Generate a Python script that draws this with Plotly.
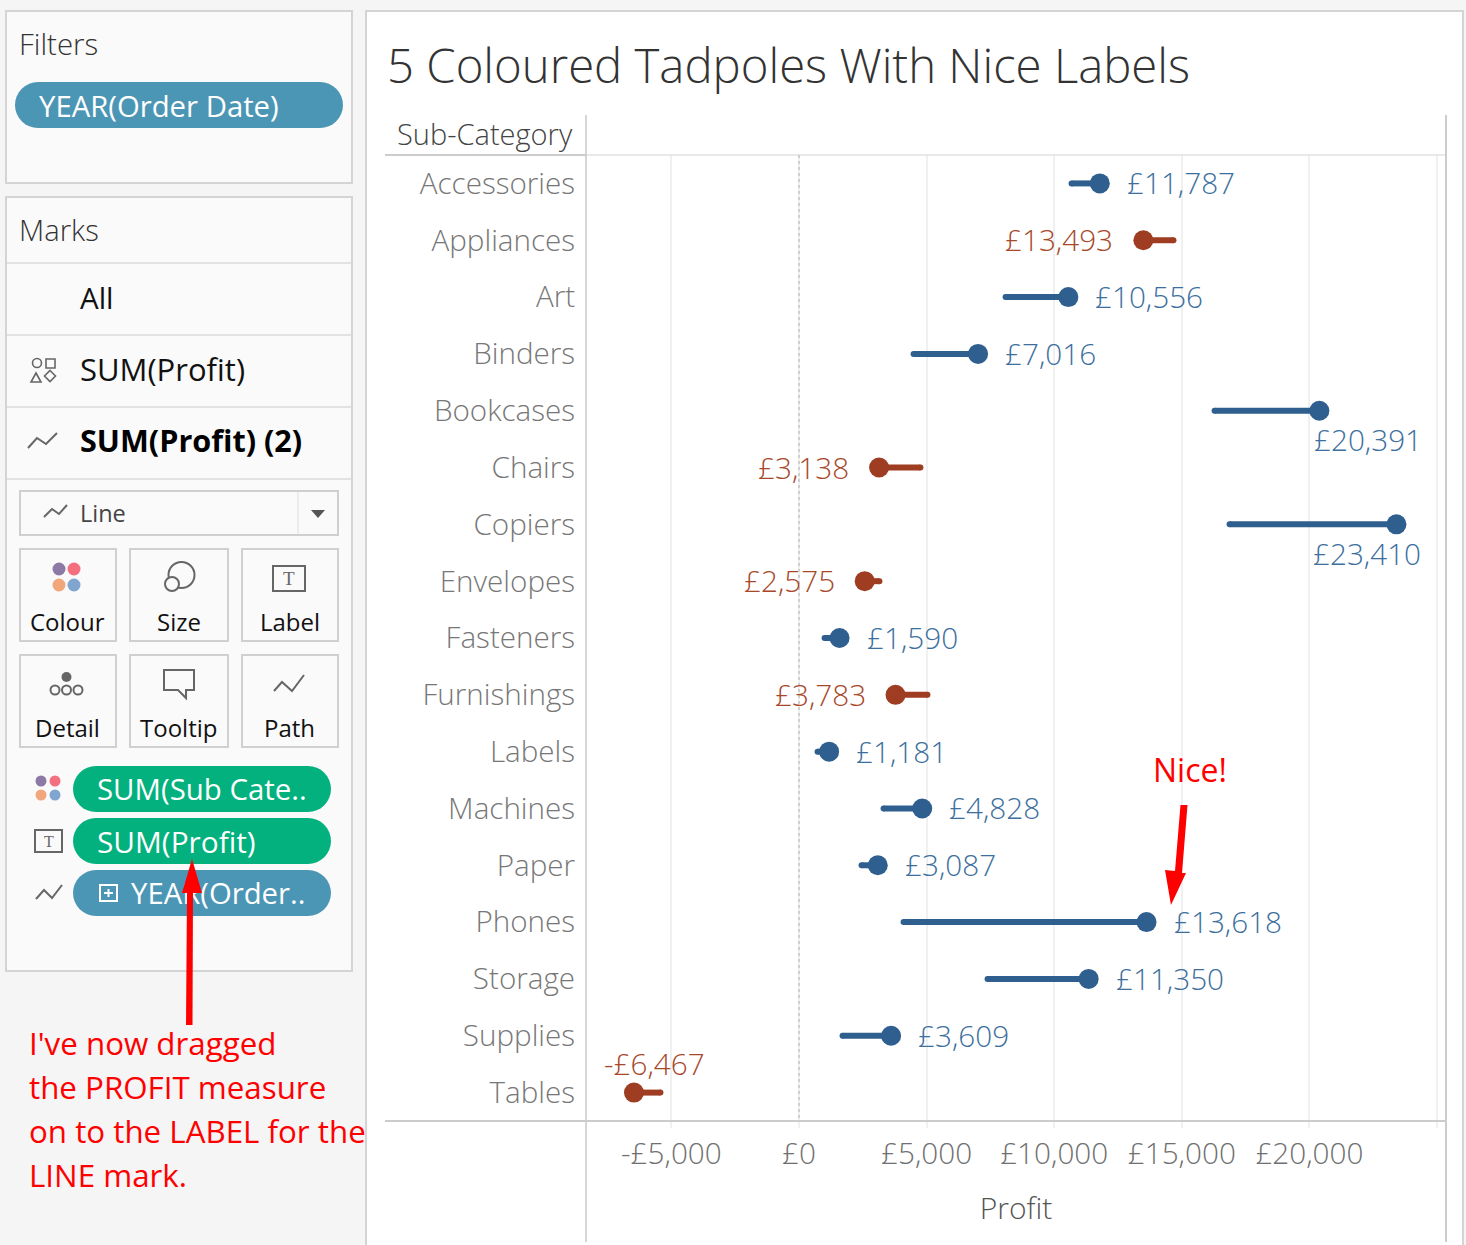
import math
import plotly.graph_objects as go

categories = ["Accessories","Appliances","Art","Binders","Bookcases","Chairs","Copiers","Envelopes",
              "Fasteners","Furnishings","Labels","Machines","Paper","Phones","Storage","Supplies","Tables"]
profit_start = [10680,14673,8094,4489,16284,4759,16871,3152,1001,5033,727,3313,2451,4097,7388,1706,-5429]
profit_end = [11787,13493,10556,7016,20391,3138,23410,2575,1590,3783,1181,4828,3087,13618,11350,3609,-6467]
x_ticks = [-5000,0,5000,10000,15000,20000,25000]
x_tick_labels = ["-£5,000","£0","£5,000","£10,000","£15,000","£20,000",""]

W, H = 1466, 1245
BLUE, RED = "#2f5f8f", "#9e3d22"
BLUE_T, RED_T = "#3d6f9e", "#a8482b"
FONT = "Open Sans"
px = lambda x: x / W
py = lambda y: 1 - y / H

def money(v):
    return ("-" if v < 0 else "") + "£{:,}".format(abs(v))

shapes, notes = [], []

def rect(x0, y0, x1, y1, fill="rgba(0,0,0,0)", line="#d4d4d4", w=2, layer="below"):
    shapes.append(dict(type="rect", xref="paper", yref="paper", x0=px(x0), x1=px(x1), y0=py(y0), y1=py(y1),
                       fillcolor=fill, line=dict(color=line, width=w), layer=layer))

def hline(x0, x1, y, color="#e2e2e2", w=2):
    shapes.append(dict(type="line", xref="paper", yref="paper", x0=px(x0), x1=px(x1), y0=py(y), y1=py(y),
                       line=dict(color=color, width=w), layer="above"))

def vline(x, y0, y1, color="#cccccc", w=2):
    shapes.append(dict(type="line", xref="paper", yref="paper", x0=px(x), x1=px(x), y0=py(y0), y1=py(y1),
                       line=dict(color=color, width=w), layer="above"))

def circ(cx, cy, r, fill="rgba(0,0,0,0)", line=None, w=2):
    shapes.append(dict(type="circle", xref="paper", yref="paper", x0=px(cx-r), x1=px(cx+r), y0=py(cy-r), y1=py(cy+r),
                       fillcolor=fill, line=dict(color=line or "rgba(0,0,0,0)", width=w if line else 0), layer="above"))

def poly(points, fill="rgba(0,0,0,0)", line=None, w=2, closed=False, layer="above"):
    d = "M " + " L ".join(f"{px(a):.5f},{py(b):.5f}" for a, b in points) + (" Z" if closed else "")
    shapes.append(dict(type="path", xref="paper", yref="paper", path=d, fillcolor=fill,
                       line=dict(color=line or "rgba(0,0,0,0)", width=w if line else 0), layer=layer))

def pill(x0, y0, x1, y1, color, layer="above"):
    r = (y1 - y0) / 2
    pts = [(x1 - r + r*math.sin(math.pi*i/16), y0 + r - r*math.cos(math.pi*i/16)) for i in range(17)]
    pts += [(x0 + r - r*math.sin(math.pi*i/16), y1 - r + r*math.cos(math.pi*i/16)) for i in range(17)]
    poly(pts, fill=color, closed=True, layer=layer)

def text(x, y, s, size, color="#333333", anchor="left", weight=400, family=FONT):
    dx = -2 if anchor == "left" else 0
    notes.append(dict(xref="paper", yref="paper", x=px(x + dx), y=py(y - 1), text=s, showarrow=False,
                      xanchor=anchor, yanchor="middle", align=anchor,
                      font=dict(size=size, color=color, family=family, weight=weight)))

# panels
rect(6, 11, 352, 183, fill="#fafafa")
rect(6, 197, 352, 971, fill="#fafafa")
rect(366, 11, 1463, 1260, fill="#ffffff")
for y in (263, 335, 407, 479):
    hline(7, 351, y)
text(19, 45, "Filters", 29.4, "#333333", weight=300)
text(19, 231, "Marks", 29.2, "#333333", weight=300)
text(80, 298, "All", 29.5, "#111111")
text(80, 370, "SUM(Profit)", 31, "#111111")
text(80, 441, "SUM(Profit) (2)", 30.6, "#000000", weight=700)
pill(15, 82, 343, 128, "#4c96b5")
text(39, 107, "YEAR(Order Date)", 29.3, "#ffffff")

# shelf icons
G = "#666666"
circ(37, 363, 4.5, line=G, w=1.6)
rect(46, 359, 55, 368, line=G, w=1.6, layer="above")
poly([(31, 382), (41, 382), (36, 373)], line=G, w=1.6, closed=True)
poly([(50, 370.5), (55.5, 376), (50, 381.5), (44.5, 376)], line=G, w=1.6, closed=True)
poly([(28, 448), (37, 438), (46, 444), (57, 433)], line=G)

# mark type dropdown
rect(20, 491, 338, 535, line="#cfcfcf")
vline(298, 492, 534, "#dddddd", 1)
poly([(44, 517), (52, 509), (59, 514), (67, 505)], line=G)
text(80, 514, "Line", 23.5, "#444444")
poly([(311, 510), (325, 510), (318, 518)], fill="#555555", closed=True)

# mark cards
for x0, x1, y0, y1, s in [(20, 116, 549, 641, "Colour"), (130, 228, 549, 641, "Size"), (242, 338, 549, 641, "Label"),
                          (20, 116, 655, 747, "Detail"), (130, 228, 655, 747, "Tooltip"), (242, 338, 655, 747, "Path")]:
    rect(x0, y0, x1, y1, line="#d0d0d0")
    text((x0 + x1) / 2 - 0.5, y0 + 73, s, 24, "#111111", anchor="center")

def dots(x0, x1, y0, y1, r):
    for cx, cy, c in [(x0, y0, "#8d79a5"), (x1, y0, "#f4707f"), (x0, y1, "#f2a67b"), (x1, y1, "#80a6d0")]:
        circ(cx, cy, r, fill=c)

dots(59, 74, 569, 585, 6.5)
dots(41, 55, 781, 795, 5.5)
circ(181.5, 575, 13, line=G)
circ(172, 584, 7, fill="#fafafa", line=G)
rect(273, 566, 305, 591, line=G, layer="above")
text(289, 579, "T", 19, G, anchor="center", family="Liberation Serif")
rect(35, 830, 62, 852, line=G, layer="above")
text(48.5, 842, "T", 16, G, anchor="center", family="Liberation Serif")
circ(66.5, 677, 5, fill=G)
for cx in (55, 66.5, 78):
    circ(cx, 690, 4.5, line=G)
poly([(164, 670), (194, 670), (194, 690), (186, 690), (186, 698), (178, 690), (164, 690)], line=G, closed=True)
poly([(274, 691), (282, 682), (292, 691), (304, 675)], line=G)
poly([(36, 899), (44, 890), (52, 898), (62, 885)], line=G)

# shelf pills
pill(73, 766, 331, 812, "#02b17d")
pill(73, 818, 331, 864, "#02b17d")
pill(73, 870, 331, 916, "#4c96b5", layer="below")
text(97, 790, "SUM(Sub Cate..", 29.4, "#ffffff")
text(97, 842, "SUM(Profit)", 29.8, "#ffffff")
rect(100, 885, 117, 901, line="#ffffff", layer="above")
hline(104, 113, 893, "#ffffff", 2)
vline(108.5, 889, 897, "#ffffff", 2)

# annotation arrows and notes
RD = "#ff0000"
poly([(186, 1025), (192.5, 1025), (193, 893), (202, 893), (192, 859), (182, 893), (187, 893)], fill=RD, closed=True)
poly([(1180.5, 805), (1187.5, 805), (1182, 873), (1186, 873), (1171, 905), (1165, 870), (1175, 871)], fill=RD, closed=True)
for y, s in [(1044, "I've now dragged"), (1088, "the PROFIT measure"), (1132, "on to the LABEL for the"), (1176, "LINE mark.")]:
    text(29, y, s, 31.3, RD)
text(1153, 770, "Nice!", 32, RD)

# chart furniture
text(387, 66, "5 Coloured Tadpoles With Nice Labels", 47.3, "#333333", weight=300)
text(575, 134, "Sub-Category", 29, "#444444", anchor="right", weight=300)
hline(385, 586, 155, "#cccccc", 2)
hline(586, 1446, 155, "#d4d4d4", 1.2)
hline(385, 1446, 1121, "#cccccc", 2)
vline(586, 115, 1242, "#cccccc", 1.6)
vline(1446, 115, 1242, "#cccccc", 2)
shapes.append(dict(type="line", xref="x", yref="paper", x0=0, x1=0, y0=py(155), y1=py(1121),
                   line=dict(color="#c4c4c4", width=1.5, dash="3px,3px"), layer="above"))

fig = go.Figure()
for c, a, b in zip(categories, profit_start, profit_end):
    col = BLUE if b > a else RED
    fig.add_trace(go.Scatter(x=[a, b], y=[c, c], mode="lines+markers", showlegend=False, hoverinfo="skip",
                             line=dict(color=col, width=6),
                             marker=dict(color=col, size=[6, 20], opacity=1, line=dict(width=0))))
    tcol = BLUE_T if b > a else RED_T
    xa, xs, ys = "left", 25, -0.5
    if b <= a:
        xa, xs = "right", -28
    if c == "Bookcases":
        xa, xs, ys = "right", 105, 29
    if c == "Copiers":
        xa, xs, ys = "right", 27, 29
    if c == "Tables":
        xa, xs, ys = "left", -32, -29
    notes.append(dict(x=b, y=c, xref="x", yref="y", text=money(b), showarrow=False, xanchor=xa, yanchor="middle",
                      xshift=xs, yshift=-ys, font=dict(size=29.7, color=tcol, family=FONT, weight=300)))

# this pill text sits beneath the red arrow, so it is drawn in the plot layer rather than as an annotation
fig.add_trace(go.Scatter(x=[131], y=[897], xaxis="x2", yaxis="y2", mode="text", text=["YEAR(Order.."],
                         textposition="middle right", showlegend=False, hoverinfo="skip",
                         textfont=dict(size=29.3, color="#ffffff", family=FONT)))

fig.update_layout(
    width=W, height=H, margin=dict(l=0, r=0, t=0, b=0), autosize=False,
    paper_bgcolor="#f5f5f5", plot_bgcolor="rgba(0,0,0,0)", showlegend=False,
    shapes=shapes, annotations=notes,
    xaxis=dict(domain=[px(586), px(1446)], range=[-8346, 25352], tickvals=x_ticks, ticktext=x_tick_labels,
               showgrid=True, gridcolor="#f0f0f0", gridwidth=1.6, zeroline=False, showline=False,
               ticks="outside", ticklen=6, tickcolor="#f0f0f0", tickwidth=1.6,
               tickfont=dict(size=29.7, color="#707070", family=FONT, weight=300),
               title=dict(text="Profit", standoff=26, font=dict(size=30, color="#555555", family=FONT, weight=300)),
               fixedrange=True),
    yaxis=dict(domain=[py(1121), py(155)], type="category", categoryorder="array", categoryarray=categories,
               autorange=False, range=[16.5, -0.5], tickvals=categories, showgrid=False, zeroline=False, showline=False,
               ticks="outside", ticklen=4, tickcolor="rgba(0,0,0,0)",
               tickfont=dict(size=29.6, color="#777777", family=FONT, weight=300), fixedrange=True),
    xaxis2=dict(domain=[0, 1], range=[0, W], visible=False, anchor="y2", fixedrange=True),
    yaxis2=dict(domain=[0, 1], range=[H, 0], visible=False, anchor="x2", fixedrange=True),
)

fig.write_html("out.html", config=dict(displayModeBar=False),
               post_script="document.body.style.margin='0';document.body.style.overflow='hidden';")
